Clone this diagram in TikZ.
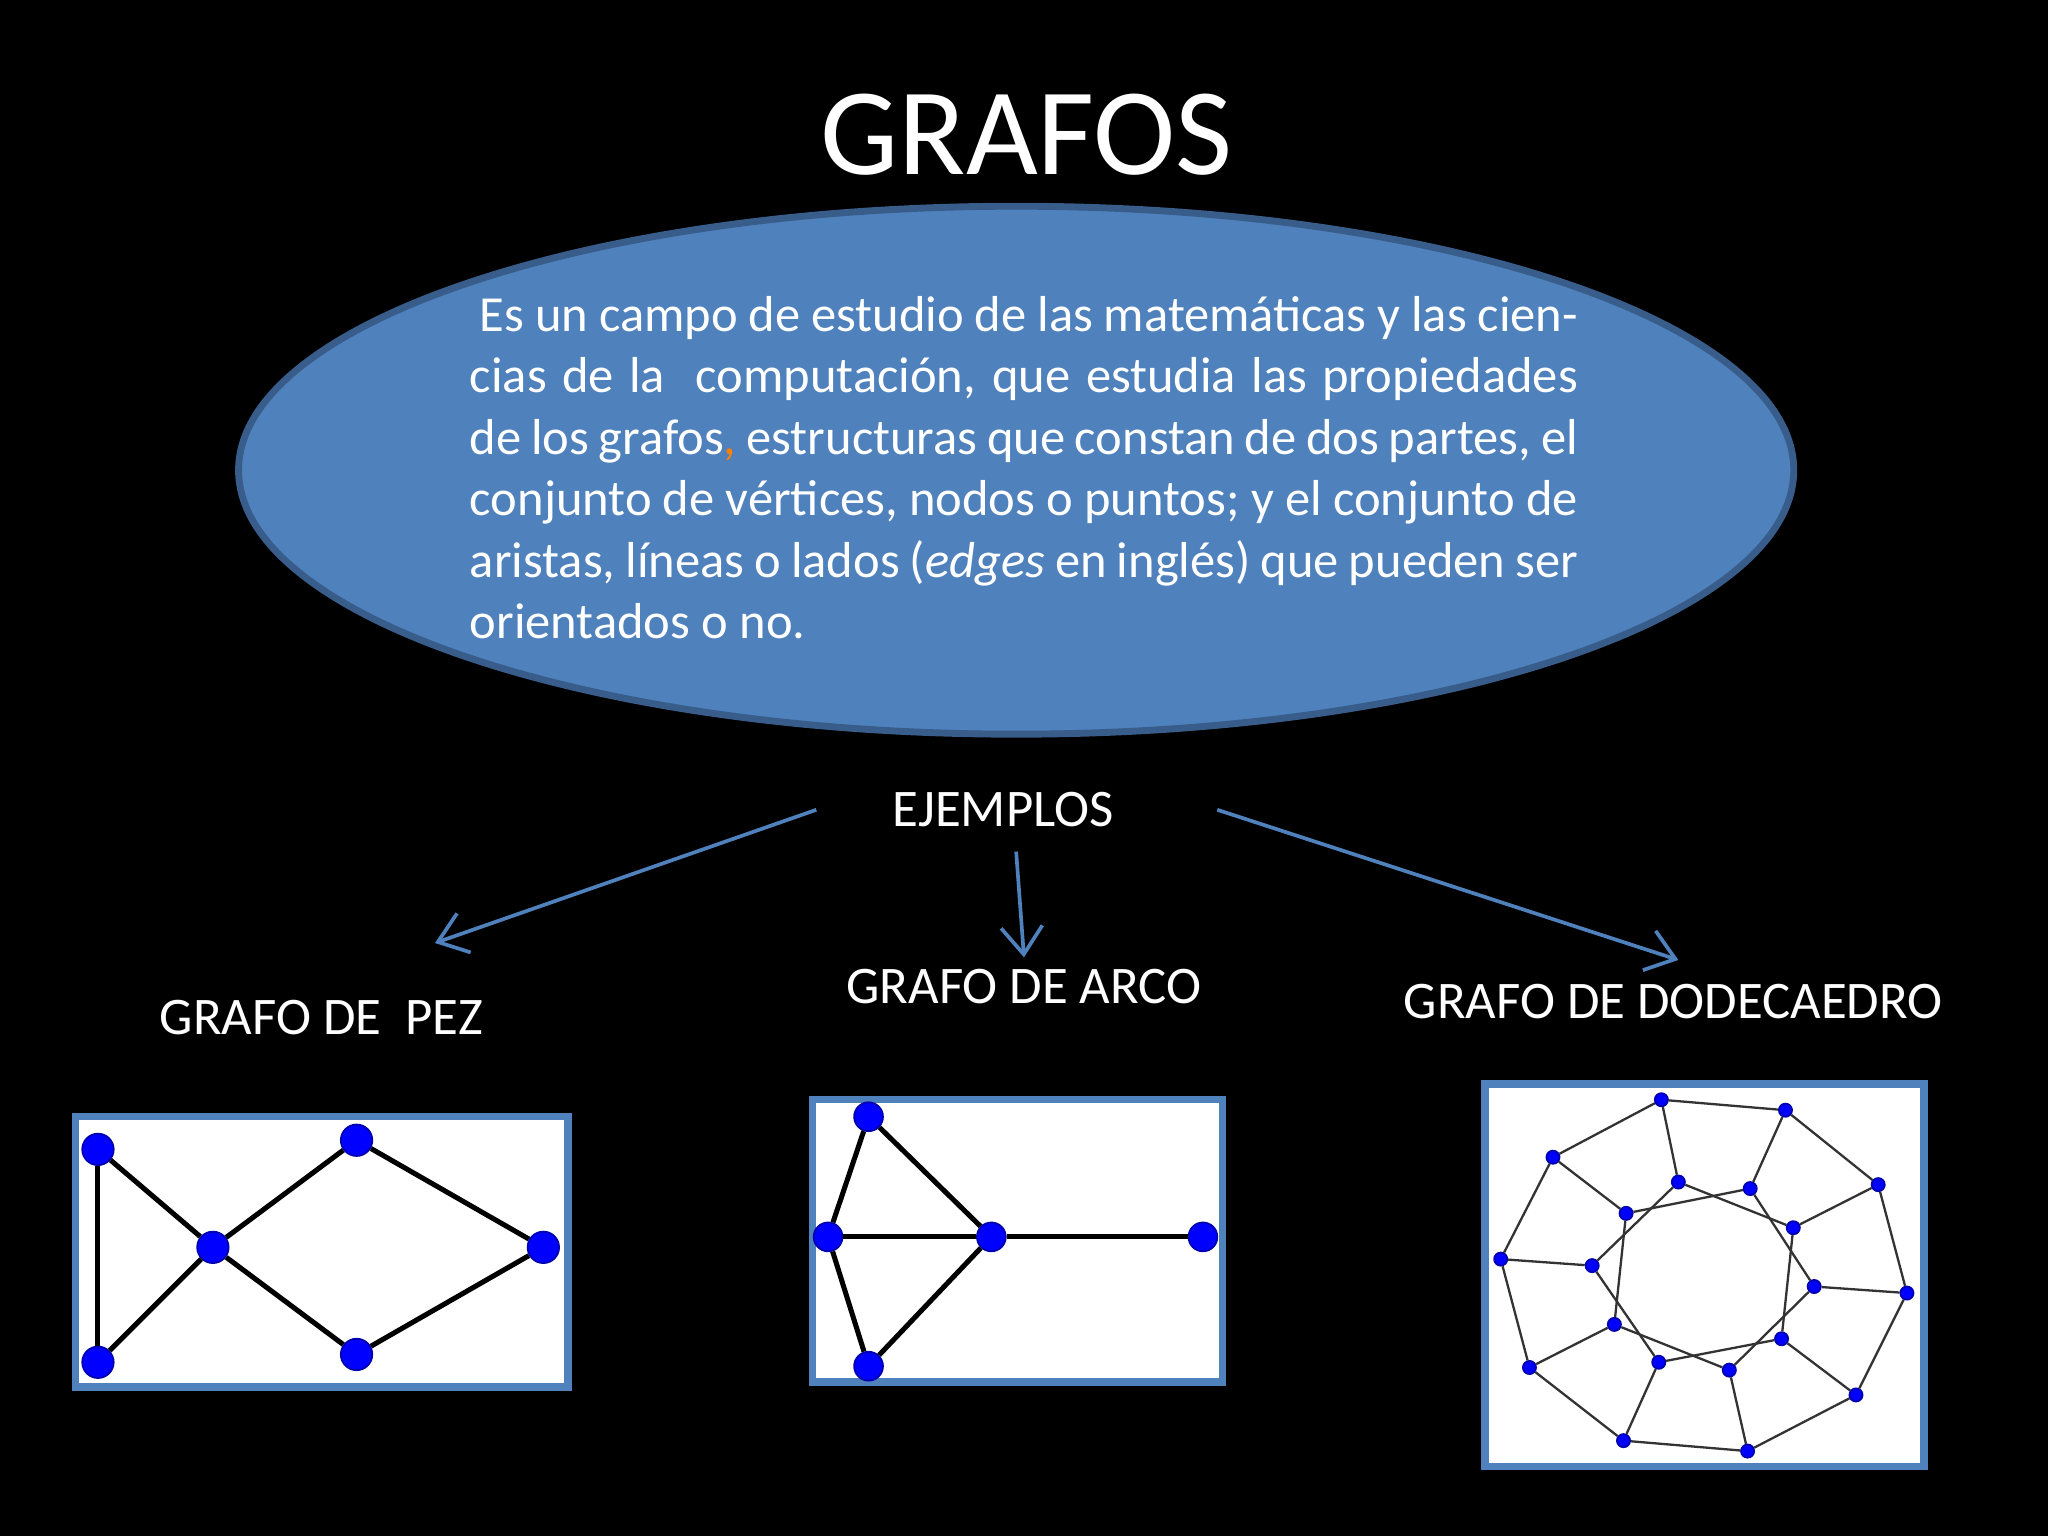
\documentclass[tikz,border=0pt]{standalone}
\usepackage{fontspec}
\setmainfont{Carlito}
\usetikzlibrary{
	positioning		% relative placement
	, arrows.meta	% arrow tips
	, shapes.geometric
}
\definecolor{slideblue}{HTML}{4F81BD}
\definecolor{slideedge}{HTML}{385D8A}

\begin{document}
\begin{tikzpicture}[
		x=0.01cm, y=-0.01cm
		, vertex/.style={circle, fill=blue, draw=blue!70!black, inner sep=0pt, minimum size=#1}
		, vertex/.default={0.24cm}
		, smallvertex/.style={vertex=0.1cm}
		, graphbox/.style={draw=slideblue, line width=1.6pt, fill=white}
		, link/.style={black, line width=1.1pt}
		, thinlink/.style={black!80, line width=0.5pt}
		, pointer/.style={draw=slideblue, line width=0.8pt, -{Straight Barb[length=6pt,width=9pt]}}
		, label text/.style={white, font=\fontsize{11.5}{14}\selectfont}
	]
	\useasboundingbox[fill=black] (0,0) rectangle (1568,1176);

	% title and definition
	\node[white, font=\fontsize{27}{32}\selectfont] (title) at (786,103) {GRAFOS};
	\node[ellipse, fill=slideblue, draw=slideedge, line width=1.5pt,
		minimum width=11.9cm, minimum height=4.04cm] (cloud) at (778,360) {};
	\node[white, text width=8.48cm, align=justify, inner sep=0pt,
		font=\fontsize{11}{13.4}\selectfont] (definition) at (784,358)
		{\hspace*{0.2em}Es un campo de estudio de las matemáticas y las ciencias de la\ \ computación, que estudia las propiedades de los grafos{\color{orange},} estructuras que constan de dos partes, el conjunto de vértices, nodos o puntos; y el conjunto de aristas, líneas o lados (\textit{edges} en inglés) que pueden ser orientados o no.};

	% examples
	\node[label text] (examples) at (768,620) {EJEMPLOS};
	\coordinate (leftstart) at (625,620);
	\coordinate (midstart) at (778,652);
	\coordinate (rightstart) at (932,620);
	\coordinate (leftend) at (333,722);
	\coordinate (midend) at (784,733);
	\coordinate (rightend) at (1285,735);
	\draw[pointer] (leftstart) -- (leftend);
	\draw[pointer] (midstart) -- (midend);
	\draw[pointer] (rightstart) -- (rightend);

	\node[label text] (fishlabel) at (246,779) {GRAFO DE\ \ PEZ};
	\node[label text] (arclabel) at (784,755) {GRAFO DE ARCO};
	\node[label text] (dodecalabel) at (1281,767) {GRAFO DE DODECAEDRO};

	% fish graph
	\draw[graphbox] (58,855) rectangle (435,1062);
	\foreach \name/\pos in {f1/{(75,880)}, f2/{(75,1043)}, f3/{(163,955)}, f4/{(273,873)}, f5/{(273,1037)}, f6/{(416,955)}}
		\node[vertex] (\name) at \pos {};
	\foreach \a/\b in {f1/f2, f1/f3, f2/f3, f3/f4, f3/f5, f4/f6, f5/f6}
		\draw[link] (\a) -- (\b);

	% arc graph
	\draw[graphbox] (622,842) rectangle (936,1058);
	\foreach \name/\pos in {a1/{(665,855)}, a2/{(634,947)}, a3/{(665,1046)}, a4/{(759,947)}, a5/{(921,947)}}
		\node[vertex=0.22cm] (\name) at \pos {};
	\foreach \a/\b in {a1/a2, a2/a3, a1/a4, a2/a4, a3/a4, a4/a5}
		\draw[link] (\a) -- (\b);

	% dodecahedron graph
	\draw[graphbox] (1137,830) rectangle (1473,1123);
	\foreach [count=\i] \pos in {(1272,842), (1367,850), (1438,907), (1460,990), (1421,1068), (1338,1111), (1243,1103), (1171,1047), (1149,964), (1189,886)}
		\node[smallvertex] (o\i) at \pos {};
	\foreach [count=\i] \pos in {(1285,905), (1340,910), (1373,940), (1389,985), (1364,1025), (1324,1049), (1270,1043), (1236,1014), (1219,969), (1245,929)}
		\node[smallvertex] (i\i) at \pos {};
	\begin{scope}[on background layer/.style={}]
	\foreach \i in {1,...,10} {
		\pgfmathtruncatemacro{\j}{mod(\i,10)+1}
		\pgfmathtruncatemacro{\k}{mod(\i+1,10)+1}
		\draw[thinlink] (o\i) -- (o\j);
		\draw[thinlink] (o\i) -- (i\i);
		\draw[thinlink] (i\i) -- (i\k);
	}
	\end{scope}
\end{tikzpicture}
\end{document}
